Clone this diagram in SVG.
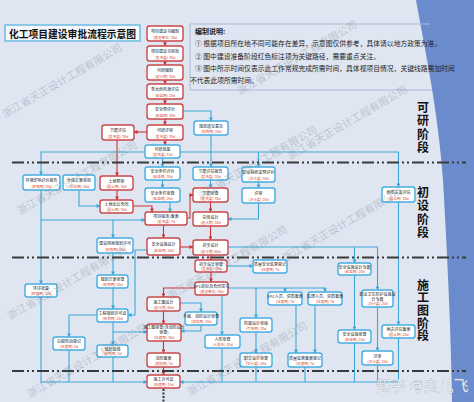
<svg xmlns="http://www.w3.org/2000/svg" width="474" height="402" viewBox="0 0 474 402">
<defs>
<style>
text{font-family:"Noto Sans CJK SC","Noto Sans",sans-serif}
.nd rect{fill:#fff;stroke-width:1.4}
.red rect{stroke:#c9474a}
.teal rect{stroke:#45ade0}
.nm{font-size:4px;fill:#222;text-anchor:middle}
.dt{font-size:3.6px;fill:#d2452f;text-anchor:middle}
.lr{stroke:#c9363a;fill:none;stroke-width:1.1}
.lt{stroke:#3fa7d8;fill:none;stroke-width:1.1}
.dd{stroke:#3a3a3a;stroke-width:1.8;fill:none;stroke-dasharray:12 3 2 3 2 3}
.ph{font-size:12px;font-weight:bold;fill:#111;writing-mode:vertical-rl;text-anchor:start}
.nt{font-size:6.8px;fill:#222}
.wm{font-size:10.5px;fill:#6c7585;opacity:0.3}
</style>
<marker id="ar" viewBox="0 0 6 6" refX="5.5" refY="3" markerWidth="3.5" markerHeight="3.5" orient="auto"><path d="M0,0 L6,3 L0,6z" fill="#c9363a"/></marker>
<marker id="at" viewBox="0 0 6 6" refX="5.5" refY="3" markerWidth="3.5" markerHeight="3.5" orient="auto"><path d="M0,0 L6,3 L0,6z" fill="#3fa7d8"/></marker>
</defs>
<rect width="474" height="402" fill="#dfe6f1"/>
<path d="M416,0 C425,50 438,110 443,180 C447,250 451,330 452,402 L474,402 L474,0 Z" fill="#6b8ccc"/>

<g id="title"><rect x="5" y="25" width="135" height="16" fill="#f4f7fb" stroke="#6cbde3" stroke-width="1.5"/><text x="72.5" y="37.5" font-size="10.5" font-weight="bold" text-anchor="middle" textLength="127" lengthAdjust="spacingAndGlyphs" fill="#111">化工项目建设审批流程示意图</text></g>

<g id="notes">
<path d="M430,24 H190 V90 H432" fill="none" stroke="#a8b9d6" stroke-width="1"/>
<text x="195" y="33.5" font-size="7" font-weight="bold" fill="#222">编制说明:</text>
<text x="195" y="45.5" class="nt">① 根据项目所在地不同可能存在差异，示意图仅供参考，具体请以地方政策为准。</text>
<text x="195" y="59" class="nt">② 图中建设准备阶段红色标注项为关键路径，需要重点关注。</text>
<text x="195" y="70.5" class="nt">③ 图中所示时间仅表示此工作常规完成所需时间，具体视项目情况，关键线路需加时间</text>
<text x="190" y="82.5" class="nt">不代表此项所需时间。</text>
</g>

<g id="connectors">
<path class="lr" marker-end="url(#ar)" d="M165,41 V46"/>
<path class="lr" marker-end="url(#ar)" d="M165,61 V65"/>
<path class="lr" marker-end="url(#ar)" d="M165,80 V84"/>
<path class="lr" marker-end="url(#ar)" d="M165,99 V104"/>
<path class="lr" marker-end="url(#ar)" d="M165,119 V125"/>
<path class="lr" marker-end="url(#ar)" d="M165,140 V145"/>
<path class="lr" marker-end="url(#ar)" d="M147,132 H134"/>
<path class="lr" marker-end="url(#ar)" d="M117,140 V176"/>
<path class="lr" marker-end="url(#ar)" d="M117,190 V200"/>
<path class="lr" marker-end="url(#ar)" d="M133,206 H152 V212"/>
<path class="lr" marker-end="url(#ar)" d="M187,218 H190 V195 H193"/>
<path class="lr" marker-end="url(#ar)" d="M210.5,202 V212"/>
<path class="lr" marker-end="url(#ar)" d="M210.5,226 V240"/>
<path class="lr" marker-end="url(#ar)" d="M163.5,225 V238"/>
<path class="lr" marker-end="url(#ar)" d="M180,247 H193"/>
<path class="lr" marker-end="url(#ar)" d="M211,255 V260"/>
<path class="lr" marker-end="url(#ar)" d="M211,272 V282"/>
<path class="lr" marker-end="url(#ar)" d="M195,288 H163.5 V297"/>
<path class="lr" marker-end="url(#ar)" d="M163.5,311 V324"/>
<path class="lr" marker-end="url(#ar)" d="M163.5,341 V353"/>
<path class="lr" marker-end="url(#ar)" d="M163.5,367 V375"/>

<path class="lt" marker-end="url(#at)" d="M183,111 H211 V121"/>
<path class="lt" marker-end="url(#at)" d="M211,135 V167"/>
<path class="lt" marker-end="url(#at)" d="M145,152 H41 V175"/>
<path class="lt" marker-end="url(#at)" d="M180,152 H398.5 V187"/>
<path class="lt" marker-end="url(#at)" d="M258.5,152 V167"/>
<path class="lt" marker-end="url(#at)" d="M162.5,158 V167"/>
<path class="lt" marker-end="url(#at)" d="M162.5,180 V188"/>
<path class="lt" marker-end="url(#at)" d="M170,202 V212"/>
<path class="lt" marker-end="url(#at)" d="M210.5,180 V188"/>
<path class="lt" marker-end="url(#at)" d="M258.5,182 V188"/>
<path class="lt" marker-end="url(#at)" d="M258.5,203 V219 H228"/>
<path class="lt" marker-end="url(#at)" d="M79,190 V206 H100"/>
<path class="lt" marker-end="url(#at)" d="M41,190 V284"/>
<path class="lt" marker-end="url(#at)" d="M41,297 V382 H147"/>
<path class="lt" marker-end="url(#at)" d="M41,220 H145"/>
<path class="lt" marker-end="url(#at)" d="M113,220 V238"/>
<path class="lt" marker-end="url(#at)" d="M113,253 V275"/>
<path class="lt" marker-end="url(#at)" d="M113,288 V309"/>
<path class="lt" marker-end="url(#at)" d="M113,322 V345"/>
<path class="lt" d="M113,357 V382"/>
<path class="lt" marker-end="url(#at)" d="M97,315 H69 V337"/>
<path class="lt" d="M69,350 V382"/>
<path class="lt" marker-end="url(#at)" d="M147,250 H135 V315 H128"/>
<path class="lt" marker-end="url(#at)" d="M113,332 H147"/>
<path class="lt" marker-end="url(#at)" d="M228,247 H377.5 V290"/>
<path class="lt" marker-end="url(#at)" d="M354.5,247 V263"/>
<path class="lt" marker-end="url(#at)" d="M354.5,275 V330"/>
<path class="lt" d="M354.5,343 V382"/>
<path class="lt" marker-end="url(#at)" d="M377.5,307 V351"/>
<path class="lt" d="M377.5,365 V382"/>
<path class="lt" marker-end="url(#at)" d="M398.5,202 V325"/>
<path class="lt" marker-end="url(#at)" d="M398.5,338 V382 H180"/>
<path class="lt" marker-end="url(#at)" d="M227,266 H253"/>
<path class="lt" marker-end="url(#at)" d="M228,288 H325 V292"/>
<path class="lt" marker-end="url(#at)" d="M285,288 V292"/>
<path class="lt" marker-end="url(#at)" d="M256,288 V318"/>
<path class="lt" marker-end="url(#at)" d="M222,295 V335"/>
<path class="lt" marker-end="url(#at)" d="M180,303 H201 V312"/>
<path class="lt" marker-end="url(#at)" d="M201,325 V331 H181"/>
<path class="lt" d="M222,348 V382"/>
<path class="lt" marker-end="url(#at)" d="M256,332 V353"/>
<path class="lt" d="M256,367 V382"/>
<path class="lt" marker-end="url(#at)" d="M296,305 V353"/>
<path class="lt" marker-end="url(#at)" d="M315,305 V353"/>
<path class="lt" d="M305,367 V382"/>
<path d="M163.5,389 V402" stroke="#333" stroke-width="2" stroke-dasharray="2 1.5" fill="none"/>
</g>

<g id="phase-lines">
<path class="dd" d="M12,162.5 H466"/>
<path class="dd" d="M12,257.5 H466"/>
<path class="dd" d="M12,371 H466"/>
</g>

<g id="phase-labels">
<text class="ph" x="423" y="101" letter-spacing="1.5">可研阶段</text>
<text class="ph" x="423" y="186" letter-spacing="1.5">初设阶段</text>
<text class="ph" x="423" y="279" letter-spacing="0.7">施工图阶段</text>
</g>

<g id="n1" class="nd red"><rect x="147" y="26" width="36" height="15" rx="2.5"/><text class="nm" x="165" y="33">项目建议书编制</text><text class="dt" x="165" y="38.5">(建设单位) 30d</text></g>
<g id="n2" class="nd red"><rect x="147" y="46" width="36" height="15" rx="2.5"/><text class="nm" x="165" y="53">项目建议书审批</text><text class="dt" x="165" y="58.5">(发改委) 30d</text></g>
<g id="n3" class="nd red"><rect x="147" y="65" width="36" height="15" rx="2.5"/><text class="nm" x="165" y="72">可研编制</text><text class="dt" x="165" y="77.5">(设计院) 30d</text></g>
<g id="n4" class="nd red"><rect x="147" y="84" width="36" height="15" rx="2.5"/><text class="nm" x="165" y="91">重大危险源评估</text><text class="dt" x="165" y="96.5">(安监局) 20d</text></g>
<g id="n5" class="nd red"><rect x="147" y="104" width="36" height="15" rx="2.5"/><text class="nm" x="165" y="111">安全预评价</text><text class="dt" x="165" y="116.5">(安监局) 30d</text></g>
<g id="n6" class="nd red"><rect x="147" y="125" width="36" height="15" rx="2.5"/><text class="nm" x="165" y="132">可研评审</text><text class="dt" x="165" y="137.5">(发改委) 30d</text></g>
<g id="l1" class="nd red"><rect x="102" y="125" width="32" height="15" rx="2.5"/><text class="nm" x="118" y="132">节能评估</text><text class="dt" x="118" y="137.5">(发改委) 30d</text></g>
<g id="t1" class="nd teal"><rect x="194" y="121" width="34" height="14" rx="2.5"/><text class="nm" x="211" y="127.5">规划选址意见</text><text class="dt" x="211" y="132.5">(规划局) 20d</text></g>
<g id="n7" class="nd teal"><rect x="145" y="145" width="35" height="13" rx="2.5"/><text class="nm" x="162.5" y="151">可研批复</text><text class="dt" x="162.5" y="155.5">(发改委) 15d</text></g>

<g id="a1" class="nd teal"><rect x="23" y="175" width="37" height="15" rx="2.5"/><text class="nm" x="41.5" y="182">环境影响评价报告</text><text class="dt" x="41.5" y="187.5">(环保局) 30d</text></g>
<g id="a2" class="nd teal"><rect x="63" y="175" width="32" height="15" rx="2.5"/><text class="nm" x="79" y="182">水保方案审批</text><text class="dt" x="79" y="187.5">(水利局) 20d</text></g>
<g id="a3" class="nd red"><rect x="100" y="176" width="33" height="14" rx="2.5"/><text class="nm" x="116.5" y="182.5">土地预审</text><text class="dt" x="116.5" y="187.5">(国土局) 30d</text></g>
<g id="a4" class="nd red"><rect x="100" y="200" width="33" height="13" rx="2.5"/><text class="nm" x="116.5" y="206">土地出让合同</text><text class="dt" x="116.5" y="210.5">(国土局) 30d</text></g>
<g id="b1" class="nd teal"><rect x="145" y="167" width="35" height="13" rx="2.5"/><text class="nm" x="162.5" y="173">安全条件评价</text><text class="dt" x="162.5" y="177.5">(安监局) 30d</text></g>
<g id="b2" class="nd teal"><rect x="145" y="188" width="35" height="14" rx="2.5"/><text class="nm" x="162.5" y="194.5">安全条件审查</text><text class="dt" x="162.5" y="199.5">(安监局) 20d</text></g>
<g id="b3" class="nd red"><rect x="145" y="212" width="42" height="13" rx="2.5"/><text class="nm" x="166" y="218">项目核准/备案</text><text class="dt" x="166" y="222.5">(发改委) 7d</text></g>
<g id="c1" class="nd teal"><rect x="193" y="167" width="35" height="13" rx="2.5"/><text class="nm" x="210.5" y="173">节能评估报告</text><text class="dt" x="210.5" y="177.5">(发改委) 30d</text></g>
<g id="c2" class="nd red"><rect x="193" y="188" width="35" height="14" rx="2.5"/><text class="nm" x="210.5" y="194.5">节能审查</text><text class="dt" x="210.5" y="199.5">(发改委) 30d</text></g>
<g id="c3" class="nd red"><rect x="193" y="212" width="35" height="14" rx="2.5"/><text class="nm" x="210.5" y="218.5">总体设计</text><text class="dt" x="210.5" y="223.5">(设计院) 30d</text></g>
<g id="d1" class="nd teal"><rect x="242" y="167" width="33" height="15" rx="2.5"/><text class="nm" x="258.5" y="174">职业病危害预评价</text><text class="dt" x="258.5" y="179.5">(卫计委) 30d</text></g>
<g id="d2" class="nd teal"><rect x="242" y="188" width="33" height="15" rx="2.5"/><text class="nm" x="258.5" y="195">评审</text><text class="dt" x="258.5" y="200.5">(卫计委) 20d</text></g>
<g id="e1" class="nd teal"><rect x="382" y="187" width="33" height="15" rx="2.5"/><text class="nm" x="398.5" y="194">地质灾害评估</text><text class="dt" x="398.5" y="199.5">(国土局) 30d</text></g>
<g id="f1" class="nd teal"><rect x="97" y="238" width="36" height="15" rx="2.5"/><text class="nm" x="115" y="245">建设用地规划许可</text><text class="dt" x="115" y="250.5">(规划局) 20d</text></g>
<g id="f2" class="nd red"><rect x="147" y="238" width="33" height="17" rx="2.5"/><text class="nm" x="163.5" y="246">安全设施设计</text><text class="dt" x="163.5" y="251.5">(安监局) 20d</text></g>
<g id="f3" class="nd red"><rect x="193" y="240" width="35" height="15" rx="2.5"/><text class="nm" x="210.5" y="247">初步设计</text><text class="dt" x="210.5" y="252.5">(设计院) 60d</text></g>

<g id="g1" class="nd teal"><rect x="25" y="284" width="32" height="13" rx="2.5"/><text class="nm" x="41" y="290">环评批复</text><text class="dt" x="41" y="294.5">(环保局) 20d</text></g>
<g id="g2" class="nd teal"><rect x="97" y="275" width="31" height="13" rx="2.5"/><text class="nm" x="112.5" y="281">规划方案审查</text><text class="dt" x="112.5" y="285.5">(规划局) 20d</text></g>
<g id="g3" class="nd teal"><rect x="97" y="309" width="31" height="13" rx="2.5"/><text class="nm" x="112.5" y="315">工程规划许可证</text><text class="dt" x="112.5" y="319.5">(规划局) 20d</text></g>
<g id="g4" class="nd teal"><rect x="53" y="337" width="32" height="13" rx="2.5"/><text class="nm" x="69" y="343">白蚁防治登记</text><text class="dt" x="69" y="347.5">(住建局) 5d</text></g>
<g id="g5" class="nd teal"><rect x="97" y="345" width="31" height="12" rx="2.5"/><text class="nm" x="112.5" y="350.5">规划验线</text><text class="dt" x="112.5" y="354.5">(规划局) 5d</text></g>
<g id="h1" class="nd red"><rect x="195" y="260" width="32" height="12" rx="2.5"/><text class="nm" x="211" y="265.5">初步设计审查</text><text class="dt" x="211" y="269.5">(发改委) 30d</text></g>
<g id="h2" class="nd teal"><rect x="253" y="260" width="34" height="13" rx="2.5"/><text class="nm" x="270" y="266">质量安全监督登记</text><text class="dt" x="270" y="270.5">(住建局) 7d</text></g>
<g id="h3" class="nd red"><rect x="195" y="282" width="33" height="13" rx="2.5"/><text class="nm" x="211.5" y="288">EPC招标及合同签订</text><text class="dt" x="211.5" y="292.5">(建设单位) 30d</text></g>
<g id="i1" class="nd red"><rect x="147" y="297" width="33" height="14" rx="2.5"/><text class="nm" x="163.5" y="303.5">施工图设计</text><text class="dt" x="163.5" y="308.5">(设计院) 60d</text></g>
<g id="i2" class="nd teal"><rect x="185" y="312" width="32" height="13" rx="2.5"/><text class="nm" x="201" y="318">平面、消防设计审查</text><text class="dt" x="201" y="322.5">(消防局) 20d</text></g>
<g id="i3" class="nd red"><rect x="147" y="324" width="34" height="17" rx="2.5"/><text class="nm" x="164" y="329">施工图审查(含消防设计</text><text class="nm" x="164" y="334">审查)</text><text class="dt" x="164" y="339">(住建局) 30d</text></g>
<g id="i4" class="nd teal"><rect x="205" y="335" width="35" height="13" rx="2.5"/><text class="nm" x="222.5" y="341">人防审查</text><text class="dt" x="222.5" y="345.5">(人防办) 20d</text></g>
<g id="j1" class="nd teal"><rect x="240" y="318" width="32" height="14" rx="2.5"/><text class="nm" x="256" y="324.5">防雷设计审核</text><text class="dt" x="256" y="329.5">(气象局) 20d</text></g>
<g id="j2" class="nd teal"><rect x="240" y="353" width="32" height="14" rx="2.5"/><text class="nm" x="256" y="359.5">职卫设计审查</text><text class="dt" x="256" y="364.5">(卫计委) 20d</text></g>
<g id="k1" class="nd teal"><rect x="268" y="292" width="34" height="13" rx="2.5"/><text class="nm" x="285" y="298">EPC人员、资质备案</text><text class="dt" x="285" y="302.5">(住建局) 7d</text></g>
<g id="k2" class="nd teal"><rect x="308" y="292" width="34" height="13" rx="2.5"/><text class="nm" x="325" y="298">监理人员、资质备案</text><text class="dt" x="325" y="302.5">(住建局) 7d</text></g>
<g id="k3" class="nd teal"><rect x="288" y="353" width="34" height="14" rx="2.5"/><text class="nm" x="305" y="359.5">质量监督备案登记</text><text class="dt" x="305" y="364.5">(住建局) 7d</text></g>
<g id="l5" class="nd teal"><rect x="338" y="263" width="33" height="12" rx="2.5"/><text class="nm" x="354.5" y="268.5">安全设施设计专篇</text><text class="dt" x="354.5" y="272.5">(安监局) 20d</text></g>
<g id="l6" class="nd teal"><rect x="362" y="290" width="31" height="17" rx="2.5"/><text class="nm" x="377.5" y="295.5">职业卫生防护设施设</text><text class="nm" x="377.5" y="300.5">计专篇</text><text class="dt" x="377.5" y="305">(卫计委) 20d</text></g>
<g id="l7" class="nd teal"><rect x="338" y="330" width="33" height="13" rx="2.5"/><text class="nm" x="354.5" y="336">安全设施审查</text><text class="dt" x="354.5" y="340.5">(安监局) 20d</text></g>
<g id="l8" class="nd teal"><rect x="362" y="351" width="31" height="14" rx="2.5"/><text class="nm" x="377.5" y="357.5">评审</text><text class="dt" x="377.5" y="362.5">(卫计委) 20d</text></g>
<g id="e2" class="nd teal"><rect x="382" y="325" width="33" height="13" rx="2.5"/><text class="nm" x="398.5" y="331">地灾评估备案</text><text class="dt" x="398.5" y="335.5">(国土局) 20d</text></g>
<g id="m1" class="nd red"><rect x="147" y="353" width="33" height="14" rx="2.5"/><text class="nm" x="163.5" y="359.5">消防备案</text><text class="dt" x="163.5" y="364.5">(消防局) 7d</text></g>
<g id="m2" class="nd red"><rect x="147" y="375" width="33" height="13" rx="2.5"/><text class="nm" x="163.5" y="381">施工许可证</text><text class="dt" x="163.5" y="385.5">(住建局) 15d</text></g>

<g id="watermarks">
<text class="wm" transform="translate(5,118) rotate(-30)">浙江省天正设计工程有限公司</text>
<text class="wm" transform="translate(240,95) rotate(-30)">浙江省天正设计工程有限公司</text>
<text class="wm" transform="translate(20,215) rotate(-30)">浙江省天正设计工程有限公司</text>
<text class="wm" transform="translate(200,200) rotate(-30)">浙江省天正设计工程有限公司</text>
<text class="wm" transform="translate(290,160) rotate(-30)">浙江省天正设计工程有限公司</text>
<text class="wm" transform="translate(10,320) rotate(-30)">浙江省天正设计工程有限公司</text>
<text class="wm" transform="translate(170,300) rotate(-30)">浙江省天正设计工程有限公司</text>
<text class="wm" transform="translate(285,262) rotate(-30)">浙江省天正设计工程有限公司</text>
<text class="wm" transform="translate(30,398) rotate(-30)">浙江省天正设计工程有限公司</text>
<text class="wm" transform="translate(190,396) rotate(-30)">浙江省天正设计工程有限公司</text>
</g>
<text x="376" y="391" font-size="15" fill="#ffffff" stroke="#9aa3b3" stroke-width="0.3">知乎 @虫儿飞</text>
</svg>
